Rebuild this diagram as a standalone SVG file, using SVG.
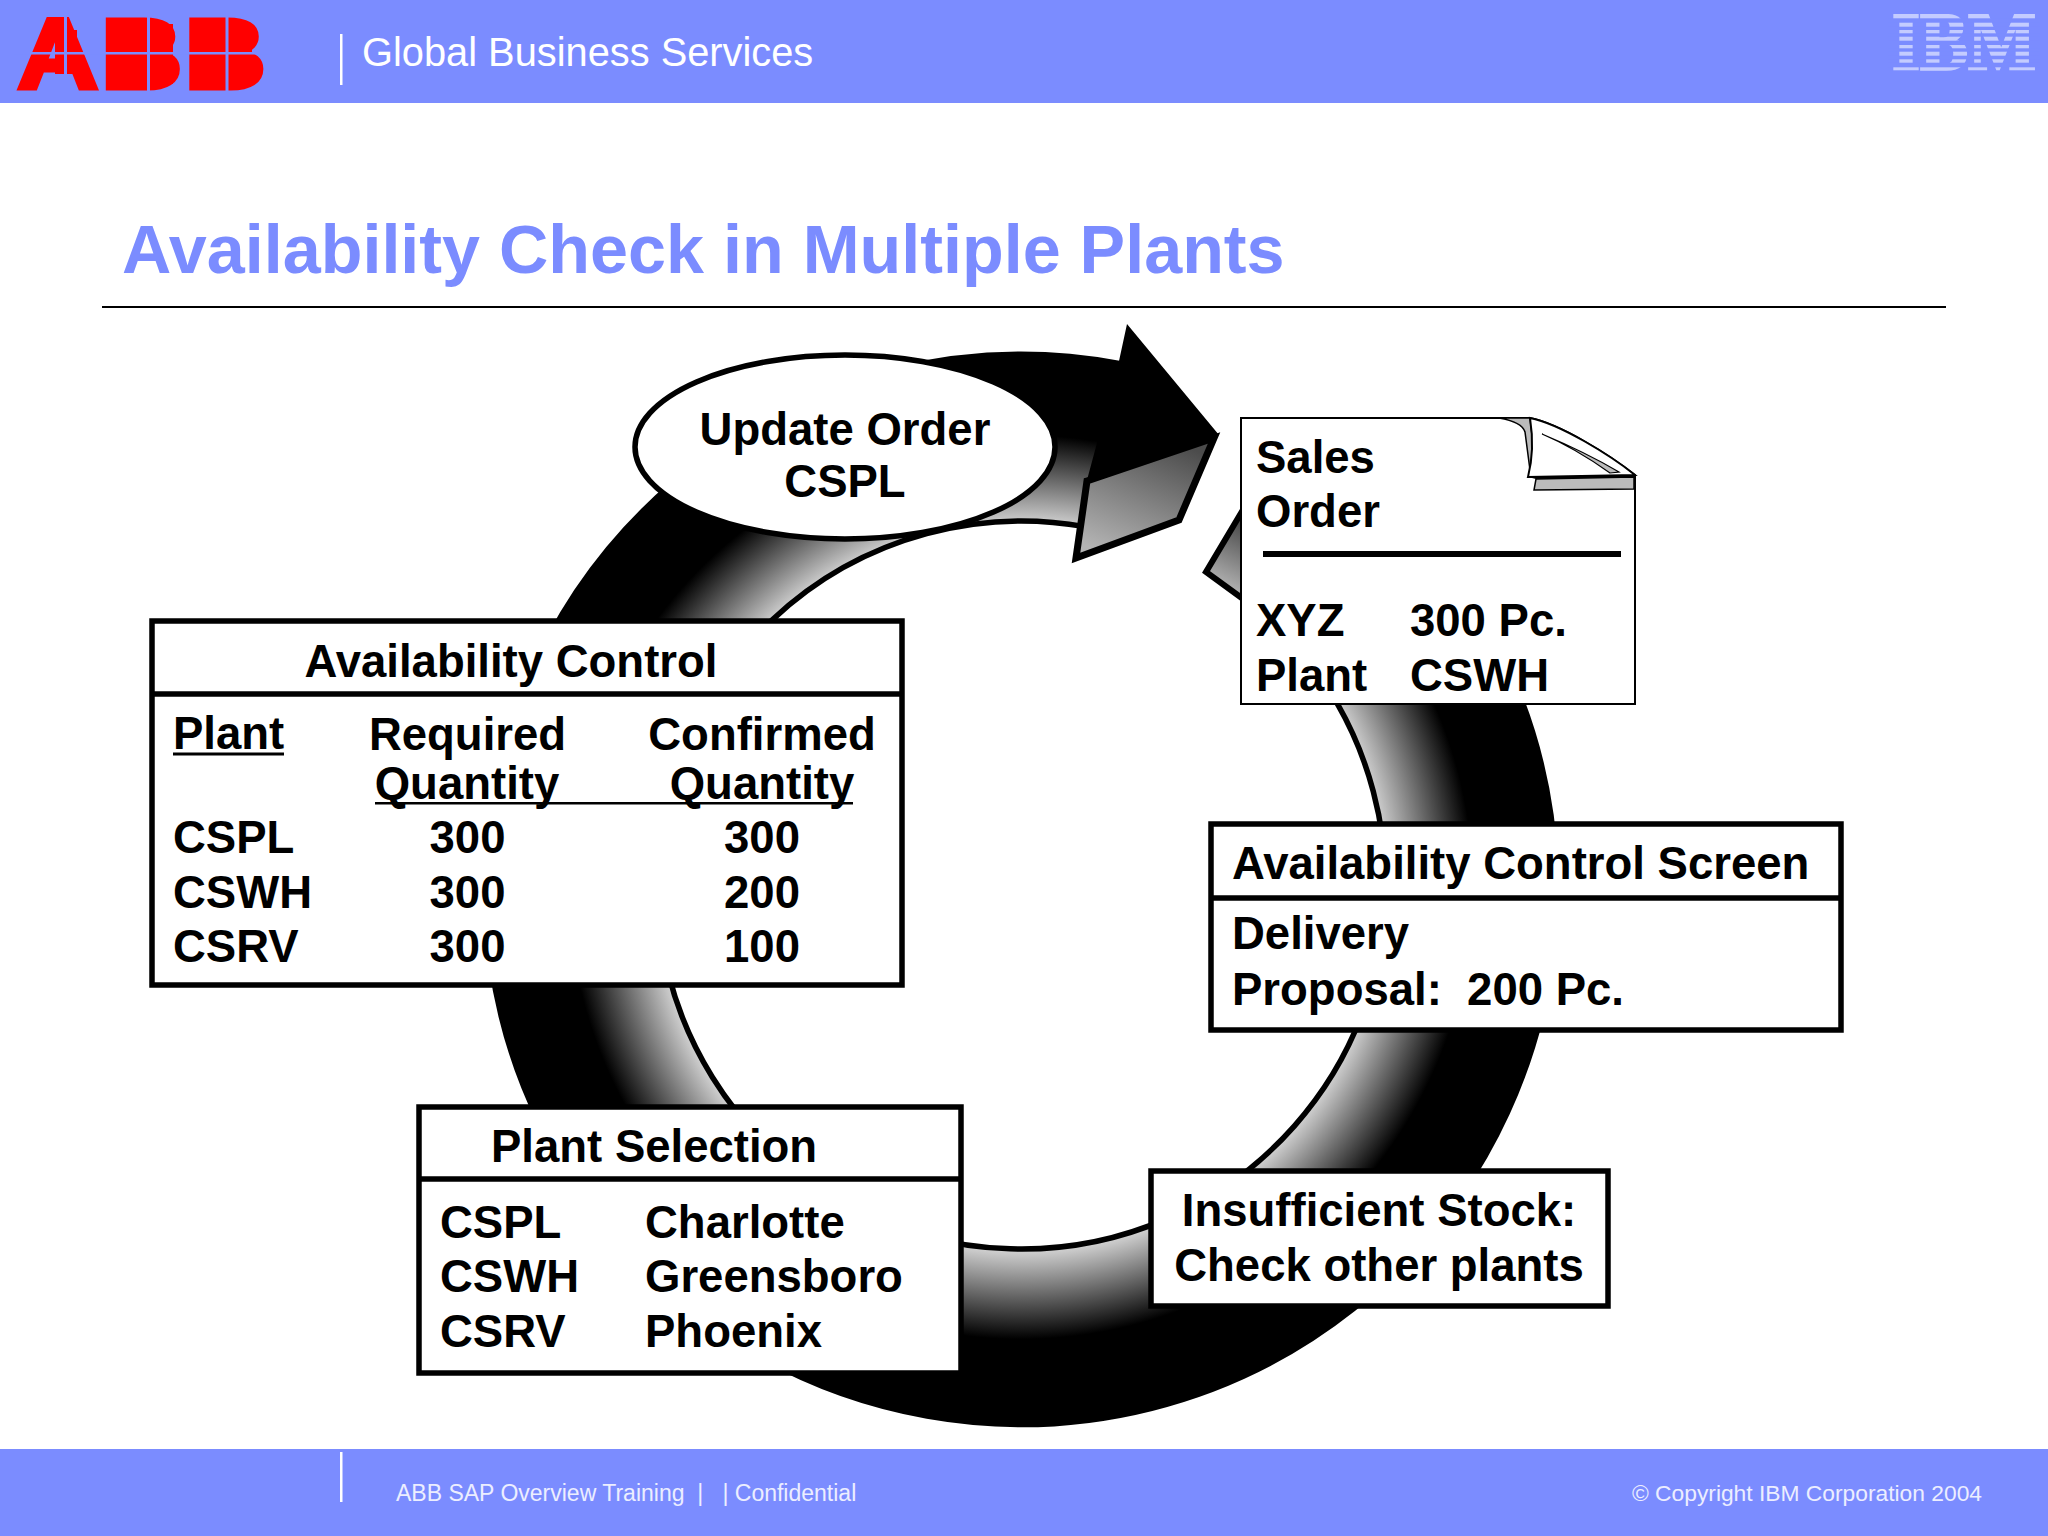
<svg xmlns="http://www.w3.org/2000/svg" width="2048" height="1536" viewBox="0 0 2048 1536">
<style>
text{font-family:"Liberation Sans",Arial,sans-serif}
.b{font-weight:700;font-size:45.500px;fill:#000}
.m{text-anchor:middle}
.box{fill:#fff;stroke:#000;stroke-width:5.5}
.ln{stroke:#000;stroke-width:5.5;fill:none}
.hdr{fill:#7b8cff}
</style>
<defs>
<radialGradient id="ringG" gradientUnits="userSpaceOnUse" cx="1021" cy="887" r="537">
<stop offset="0.678" stop-color="#d0d0d0"/><stop offset="0.842" stop-color="#000"/><stop offset="1" stop-color="#000"/>
</radialGradient>
<linearGradient id="faceG" gradientUnits="userSpaceOnUse" x1="1170" y1="440" x2="1120" y2="560">
<stop offset="0" stop-color="#4c4c4c"/><stop offset="1" stop-color="#b4b4b4"/>
</linearGradient>
<linearGradient id="tailG" gradientUnits="userSpaceOnUse" x1="1245" y1="520" x2="1210" y2="590">
<stop offset="0" stop-color="#444"/><stop offset="1" stop-color="#c0c0c0"/>
</linearGradient>
</defs>
<rect width="2048" height="1536" fill="#fff"/>
<g id="header">
<rect class="hdr" width="2048" height="103"/>
<g id="abb-logo">
<text x="16" y="89" font-size="102" font-weight="700" fill="#ff0000" stroke="#ff0000" stroke-width="3" textLength="251" lengthAdjust="spacingAndGlyphs">ABB</text>
<rect x="55" y="30" width="22" height="44" fill="#ff0000"/>
<rect x="125" y="24" width="48" height="60" fill="#ff0000"/>
<rect x="204" y="24" width="48" height="60" fill="#ff0000"/>
<rect x="64" y="14" width="3" height="78" class="hdr"/>
<rect x="147" y="14" width="3" height="78" class="hdr"/>
<rect x="225.500" y="14" width="3" height="78" class="hdr"/>
<rect x="14" y="52" width="256" height="2.500" class="hdr"/>
</g>
<rect x="340" y="34" width="2.500" height="51" fill="#fff"/>
<text x="362" y="66" font-size="39.800" fill="#fff">Global Business Services</text>
<g id="ibm-logo">
<text x="1892" y="69" font-size="83" font-weight="700" fill="#c4ccff" stroke="#c4ccff" stroke-width="2.500" style="font-family:'Liberation Serif',serif" textLength="144" lengthAdjust="spacingAndGlyphs">IBM</text>
<g class="hdr">
<rect x="1888" y="10" width="152" height="4"/>
<rect x="1888" y="18.300" width="152" height="4.400"/>
<rect x="1888" y="26.700" width="152" height="3.300"/>
<rect x="1888" y="33.300" width="152" height="3.400"/>
<rect x="1888" y="40.700" width="152" height="4.300"/>
<rect x="1888" y="48.300" width="152" height="3.400"/>
<rect x="1888" y="55.700" width="152" height="3.600"/>
<rect x="1888" y="62.700" width="152" height="4.600"/>
</g>
</g>
</g>
<g id="title">
<text x="122" y="273" font-size="68.300" font-weight="700" fill="#7b8cff">Availability Check in Multiple Plants</text>
<rect x="102" y="306" width="1844" height="2" fill="#000"/>
</g>
<g id="connectors">
<path id="ring" d="M1119 363.500A535 535 0 1 0 1500 651L1300 650.600A364 364 0 1 1 1085 526.600Z" fill="url(#ringG)" stroke="#000" stroke-width="5.500"/>
<polygon id="tail" points="1250,498 1206,572 1250,604" fill="url(#tailG)" stroke="#000" stroke-width="6"/>
<polygon id="arrow-head" points="1105,362 1119,361 1127,324 1219,435 1083,482 1087,480 1097,443" fill="#000"/>
<polygon id="arrow-face" points="1087,481 1214,438 1179,520 1076,558" fill="url(#faceG)" stroke="#000" stroke-width="7"/>
</g>
<g id="update-order">
<ellipse cx="845" cy="447" rx="210" ry="92" fill="#fff" stroke="#000" stroke-width="5.500"/>
<text class="b m" x="845" y="445">Update Order</text>
<text class="b m" x="845" y="497">CSPL</text>
</g>
<g id="sales-order">
<path d="M1241 418H1530C1560 424 1610 455 1635 475V704H1241Z" fill="#fff" stroke="#000" stroke-width="2"/>
<path d="M1499 418Q1522 422 1525 432L1530 470 1536 470 1530 418Z" fill="#bbb" stroke="#000" stroke-width="1.500"/>
<path d="M1530 418C1560 424 1610 455 1635 475L1528 477Q1535 450 1530 418Z" fill="#fff" stroke="#000" stroke-width="2"/>
<path d="M1528 477L1635 475 1635 478 1536 479Z" fill="#000"/>
<path d="M1536 479L1634 477 1634 489 1534 490Z" fill="#bbb" stroke="#000" stroke-width="1.500"/>
<path d="M1542 434Q1585 452 1619 472L1610 473Q1575 448 1542 434Z" fill="#bbb" stroke="#000" stroke-width="1.200"/>
<text class="b" x="1256" y="473">Sales</text>
<text class="b" x="1256" y="527">Order</text>
<rect x="1263" y="551" width="358" height="6" fill="#000"/>
<text class="b" x="1256" y="636">XYZ</text>
<text class="b" x="1410" y="636">300 Pc.</text>
<text class="b" x="1256" y="691">Plant</text>
<text class="b" x="1410" y="691">CSWH</text>
</g>
<g id="availability-control">
<rect class="box" x="152" y="621" width="750" height="364"/>
<line class="ln" x1="152" y1="694" x2="902" y2="694"/>
<text class="b m" x="511" y="677">Availability Control</text>
<text class="b" x="173" y="749">Plant</text>
<rect x="173" y="752.500" width="111" height="3" fill="#000"/>
<text class="b m" x="467.500" y="750">Required</text>
<text class="b m" x="467" y="799">Quantity</text>
<text class="b m" x="762" y="750">Confirmed</text>
<text class="b m" x="762" y="799">Quantity</text>
<rect x="375" y="802" width="478" height="2.500" fill="#000"/>
<text class="b" x="173" y="853">CSPL</text><text class="b m" x="467.500" y="853">300</text><text class="b m" x="762" y="853">300</text>
<text class="b" x="173" y="908">CSWH</text><text class="b m" x="467.500" y="908">300</text><text class="b m" x="762" y="908">200</text>
<text class="b" x="173" y="962">CSRV</text><text class="b m" x="467.500" y="962">300</text><text class="b m" x="762" y="962">100</text>
</g>
<g id="availability-screen">
<rect class="box" x="1211" y="824" width="630" height="206"/>
<line class="ln" x1="1211" y1="898" x2="1841" y2="898"/>
<text class="b" x="1232" y="879">Availability Control Screen</text>
<text class="b" x="1232" y="949">Delivery</text>
<text class="b" x="1232" y="1005" xml:space="preserve">Proposal:  200 Pc.</text>
</g>
<g id="plant-selection">
<rect class="box" x="419" y="1107" width="542" height="266"/>
<line class="ln" x1="419" y1="1179" x2="961" y2="1179"/>
<text class="b" x="491" y="1162">Plant Selection</text>
<text class="b" x="440" y="1238">CSPL</text><text class="b" x="645" y="1238">Charlotte</text>
<text class="b" x="440" y="1292">CSWH</text><text class="b" x="645" y="1292">Greensboro</text>
<text class="b" x="440" y="1347">CSRV</text><text class="b" x="645" y="1347">Phoenix</text>
</g>
<g id="insufficient-stock">
<rect class="box" x="1151" y="1171" width="457" height="135"/>
<text class="b m" x="1379" y="1226">Insufficient Stock:</text>
<text class="b m" x="1379" y="1281">Check other plants</text>
</g>
<g id="footer">
<rect class="hdr" y="1449" width="2048" height="87"/>
<rect x="340" y="1452" width="2.500" height="50" fill="#fff"/>
<text x="396" y="1501" font-size="23" fill="#eceeff" xml:space="preserve">ABB SAP Overview Training  |   | Confidential</text>
<text x="1982" y="1501" font-size="22.800" fill="#eceeff" text-anchor="end">© Copyright IBM Corporation 2004</text>
</g>
</svg>
